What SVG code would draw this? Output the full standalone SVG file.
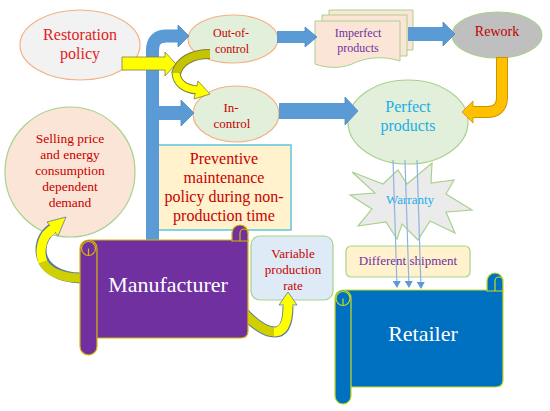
<svg xmlns="http://www.w3.org/2000/svg" width="550" height="411" viewBox="0 0 550 411" font-family="'Liberation Serif', 'DejaVu Serif', serif">
<style>
text{font-family:'Liberation Serif','DejaVu Serif',serif;text-anchor:middle}
.red{fill:#c80000}
.pur{fill:#7030a0}
.cyan{fill:#1aaee8}
.wh{fill:#ffffff}
.bl{fill:none;stroke:#5b9bd5;stroke-linecap:butt}
.blh{fill:#5b9bd5;stroke:#4a88c2;stroke-width:0.8}
.ye{fill:#ffff00;stroke:#7f7f3f;stroke-width:0.8}
.thin{stroke:#8fb4e0;stroke-width:1.2;fill:none;marker-end:url(#ah)}
.gold{stroke:#d8b800;stroke-width:1.2}
.lime{stroke:#c8dc1e;stroke-width:1.2}
</style>
<defs>
<marker id="ah" markerWidth="8" markerHeight="8" refX="6" refY="4" orient="auto" markerUnits="userSpaceOnUse">
<path d="M0,0 L7,4 L0,8 Z" fill="#5b9bd5"/>
</marker>
</defs>
<rect width="550" height="411" fill="#ffffff"/>

<g id="restoration-policy">
<ellipse cx="80" cy="45" rx="60" ry="35" fill="#f2f2f2" stroke="#f4b183" stroke-width="1.2"/>
<text x="80" y="40" font-size="16" fill="#e31b23">Restoration</text>
<text x="80" y="59" font-size="16" fill="#e31b23">policy</text>
</g>

<g id="out-of-control">
<ellipse cx="233" cy="39" rx="45" ry="24" fill="#e2efda" stroke="#f4b183" stroke-width="1.2"/>
<text x="231" y="37" font-size="12" class="red">Out-of-</text>
<text x="232" y="53" font-size="12" class="red">control</text>
</g>

<g id="in-control">
<ellipse cx="236" cy="114" rx="43" ry="28" fill="#e2efda" stroke="#f4b183" stroke-width="1.2"/>
<text x="231" y="112" font-size="13" class="red">In-</text>
<text x="232" y="128" font-size="13" class="red">control</text>
</g>

<g id="imperfect-products">
<path d="M329,10 H413 V50 H329 Z" fill="#fbe5d6" stroke="#a9d18e" stroke-width="1"/>
<path d="M322,15 H407 V56 H322 Z" fill="#fbe5d6" stroke="#a9d18e" stroke-width="1"/>
<path d="M315,21 H400 V61 C382,55 364,58 352,64 C340,69 326,68 315,64 Z" fill="#fbe5d6" stroke="#a9d18e" stroke-width="1"/>
<text x="358" y="37" font-size="12" class="pur">Imperfect</text>
<text x="358" y="52" font-size="12" class="pur">products</text>
</g>

<g id="rework">
<ellipse cx="497" cy="35" rx="45" ry="23" fill="#bfbfbf" stroke="#a9d18e" stroke-width="1.2"/>
<text x="497" y="36" font-size="14" fill="#c00000">Rework</text>
</g>

<g id="perfect-products">
<ellipse cx="408" cy="122" rx="60" ry="42" fill="#e2efda" stroke="#a9d18e" stroke-width="1.2"/>
<text x="408" y="112" font-size="16" class="cyan">Perfect</text>
<text x="408" y="131" font-size="16" class="cyan">products</text>
</g>

<g id="selling-price">
<circle cx="70" cy="172" r="65" fill="#fbe5d6" stroke="#a9d18e" stroke-width="1.2"/>
<text x="70" y="143" font-size="13.5" class="red">Selling price</text>
<text x="70" y="159" font-size="13.5" class="red">and energy</text>
<text x="70" y="175" font-size="13.5" class="red">consumption</text>
<text x="70" y="191" font-size="13.5" class="red">dependent</text>
<text x="70" y="207" font-size="13.5" class="red">demand</text>
</g>

<g id="warranty">
<polygon points="352,172 383,184 398,170 407,184 432,163 431,183 454,180 446,194 472,210 446,212 455,233 430,221 418,240 402,224 397,239 386,222 358,226 372,209 350,195 375,193" fill="#ebebeb" stroke="#a9d18e" stroke-width="1.2"/>
<text x="410" y="204" font-size="13" class="cyan">Warranty</text>
</g>

<g id="different-shipment">
<rect x="346" y="246" width="124" height="31" rx="5" fill="#fff2cc" stroke="#a9d18e" stroke-width="1.2"/>
<text x="408" y="265" font-size="13" class="pur">Different shipment</text>
</g>

<g id="preventive-maintenance">
<rect x="157" y="145" width="134" height="85" fill="#fff2cc" stroke="#5bc8de" stroke-width="1.5"/>
<text x="224" y="164" font-size="16" class="red">Preventive</text>
<text x="224" y="183" font-size="16" class="red">maintenance</text>
<text x="224" y="202" font-size="16" class="red">policy during non-</text>
<text x="224" y="221" font-size="16" class="red">production time</text>
</g>

<g id="variable-production-rate">
<rect x="251" y="236" width="82" height="64" rx="9" fill="#deebf7" stroke="#a9d18e" stroke-width="1.2"/>
<text x="293" y="258" font-size="13" class="red">Variable</text>
<text x="293" y="274" font-size="13" class="red">production</text>
<text x="293" y="290" font-size="13" class="red">rate</text>
</g>

<g id="connectors">
<path d="M152.5,240 V50 Q152.5,36 166.5,36 H180" class="bl" stroke="#4a88c2" stroke-width="13"/>
<path d="M158,113 H183" class="bl" stroke="#4a88c2" stroke-width="14"/>
<polygon points="178,25 189,36 178,47" class="blh"/>
<polygon points="181,100 194,113 181,126" class="blh"/>
<path d="M152.5,240 V50 Q152.5,36 166.5,36 H179" class="bl" stroke-width="11"/>
<path d="M157,113 H182" class="bl" stroke-width="12"/>
<path d="M277,37 H306" class="bl" stroke="#4a88c2" stroke-width="12"/>
<polygon points="305,27 317,37 305,47" class="blh"/>
<path d="M278,37 H306" class="bl" stroke-width="10"/>
<path d="M408,34 H444" class="bl" stroke="#4a88c2" stroke-width="14"/>
<polygon points="443,22 455,34 443,46" class="blh"/>
<path d="M408.5,34 H444" class="bl" stroke-width="12"/>
<path d="M279,111 H346" class="bl" stroke="#4a88c2" stroke-width="16"/>
<polygon points="345,97 358,111 345,125" class="blh"/>
<path d="M280,111 H346" class="bl" stroke-width="14"/>
<path d="M502,57 V97 Q502,112 487,112 H473" fill="none" stroke="#c99400" stroke-width="12"/>
<polygon points="473,101 462,112 473,123" fill="#ffc000" stroke="#c99400" stroke-width="0.8"/>
<path d="M502,58 V97 Q502,112 487,112 H472" fill="none" stroke="#ffc000" stroke-width="10"/>
<path d="M122,57 H165 V52 L176,64 L165,76 V70 H122 Z" class="ye"/>
<path d="M210,54 C192,54 179,61 176,74" fill="none" stroke="#7f7f3f" stroke-width="10"/>
<path d="M210,54 C192,54 179,61 176,74" fill="none" stroke="#c4c400" stroke-width="8"/>
<path d="M176,73 C177,84 186,89 197,90" fill="none" stroke="#7f7f3f" stroke-width="9"/>
<polygon points="198,81 210,94 194,99" class="ye"/>
<path d="M176,73 C177,84 186,89 198,90" fill="none" stroke="#ffff00" stroke-width="7"/>
<path d="M81,278 C60,278 41,268 41,250 C41,240 46,233 53,228" fill="none" stroke="#5a7aa0" stroke-width="11"/>
<path d="M81,278 C62,278 48,272 43,262" fill="none" stroke="#d0d000" stroke-width="9"/>
<path d="M43,262 C40,255 40,244 46,235 L54,228" fill="none" stroke="#ffff00" stroke-width="9"/>
<polygon points="58,236 66,217 47,222" fill="#ffff00" stroke="#5a7aa0" stroke-width="0.8"/>
<path d="M45,237 C47,233 50,230 55,227" fill="none" stroke="#ffff00" stroke-width="8"/>
<path d="M243,312 C255,325 265,332 275,332 C285,332 288,320 288,306" fill="none" stroke="#5a7aa0" stroke-width="11"/>
<path d="M243,312 C255,325 265,332 275,332" fill="none" stroke="#d0d000" stroke-width="9"/>
<path d="M274,332 C285,332 288,320 288,305" fill="none" stroke="#ffff00" stroke-width="9"/>
<polygon points="279,305 288,292 297,305" fill="#ffff00" stroke="#5a7aa0" stroke-width="0.8"/>
<path d="M288,310 V304" fill="none" stroke="#ffff00" stroke-width="8"/>
</g>

<g id="manufacturer">
<path d="M90,240 H248 V331 Q248,338 241,338 H90 Z" fill="#7030a0" class="gold"/>
<path d="M232,241 V233 A8,8 0 0 1 248,233 V241 Z" fill="#7030a0" class="gold"/>
<path d="M240,241 V233 A4,4 0 0 1 248,233" fill="none" class="gold"/>
<rect x="80" y="240" width="17" height="115" rx="8.5" fill="#7030a0" class="gold"/>
<circle cx="88.5" cy="248.5" r="7" fill="none" class="gold"/>
<path d="M88.5,248.5 V255" fill="none" class="gold"/>
<text x="168" y="292" font-size="22" class="wh">Manufacturer</text>
</g>

<g id="retailer">
<path d="M345,290 H503 V380 Q503,387 496,387 H345 Z" fill="#0070c0" class="lime"/>
<path d="M487,291 V281 A8,8 0 0 1 503,281 V291 Z" fill="#0070c0" class="lime"/>
<path d="M495,291 V281 A4,4 0 0 1 503,281" fill="none" class="lime"/>
<rect x="335" y="290" width="16" height="114" rx="8" fill="#0070c0" class="lime"/>
<circle cx="343" cy="298.5" r="7" fill="none" class="lime"/>
<path d="M343,298.5 V305" fill="none" class="lime"/>
<text x="423" y="341" font-size="22" class="wh">Retailer</text>
</g>

<g id="shipment-lines">
<path d="M393,160 L397,287" class="thin"/>
<path d="M405,160 L409,287" class="thin"/>
<path d="M417,160 L421,288" class="thin"/>
</g>
</svg>
